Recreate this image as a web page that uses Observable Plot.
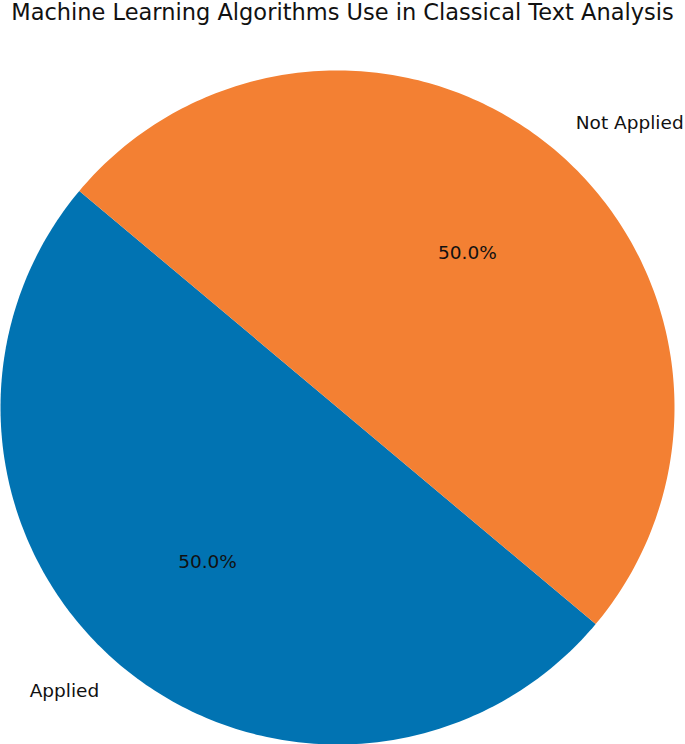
<!DOCTYPE html>
<html>
<head>
<meta charset="utf-8">
<script src="https://cdn.jsdelivr.net/npm/d3@7"></script>
<script src="https://cdn.jsdelivr.net/npm/@observablehq/plot@0.6"></script>
<style>
  html, body { margin: 0; padding: 0; background: #fff; }
  #wrap { position: relative; width: 685px; height: 744px; overflow: hidden; font-family: "DejaVu Sans", sans-serif; }
  #title { position: absolute; left: 0; width: 685px; top: 1px; text-align: center; font-size: 22.5px; line-height: 22.5px; color: #111; white-space: nowrap; }
  #chart { position: absolute; left: 0; top: 0; }
</style>
</head>
<body>
<div id="wrap">
  <div id="chart"></div>
  <div id="title">Machine Learning Algorithms Use in Classical Text Analysis</div>
</div>
<script>
const labels = ["Applied", "Not Applied"];
const values = [50, 50];
const colors = ["#0173b2", "#f38033"];
const startAngle = 140; // degrees, counterclockwise from +x

const total = d3.sum(values);
let a0 = startAngle;
const slices = labels.map((label, i) => {
  const sweep = values[i] / total * 360;
  const s = { label, value: values[i], color: colors[i], start: a0, end: a0 + sweep };
  a0 += sweep;
  return s;
});
const rad = d => d * Math.PI / 180;

const polys = slices.map(s => {
  const n = 200;
  const pts = [{x: 0, y: 0}];
  for (let k = 0; k <= n; k++) {
    const t = rad(s.start + (s.end - s.start) * k / n);
    pts.push({x: Math.cos(t), y: Math.sin(t)});
  }
  return pts;
});

const labelData = slices.map(s => {
  const m = rad((s.start + s.end) / 2);
  return {
    label: s.label,
    pct: (s.value / total * 100).toFixed(1) + "%",
    lx: 1.1 * Math.cos(m), ly: 1.1 * Math.sin(m),
    px: 0.6 * Math.cos(m), py: 0.6 * Math.sin(m),
    anchor: Math.cos(m) < 0 ? "end" : "start"
  };
});

const plot = Plot.plot({
  width: 685,
  height: 744,
  margin: 0,
  x: { domain: [-1, 1], range: [0, 674], axis: null },
  y: { domain: [-1, 1], range: [744, 70], axis: null },
  style: { fontFamily: "DejaVu Sans, sans-serif", background: "transparent" },
  marks: [
    ...polys.map((p, i) => Plot.line(p, { x: "x", y: "y", fill: slices[i].color, stroke: "none", curve: "linear-closed" })),
    ...labelData.map(d => Plot.text([d], { x: "lx", y: "ly", text: "label", textAnchor: d.anchor, fontSize: 18.5, fill: "#111" })),
    Plot.text(labelData, { x: "px", y: "py", text: "pct", fontSize: 18.5, fill: "#111" })
  ]
});
document.getElementById("chart").appendChild(plot);
</script>
</body>
</html>
